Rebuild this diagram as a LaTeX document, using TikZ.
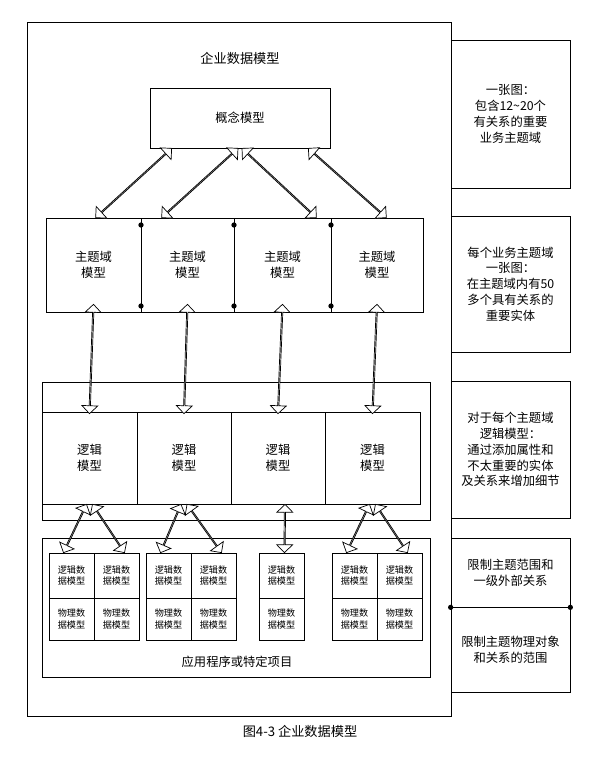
\documentclass[tikz,border=0pt]{standalone}
\usepackage{fontspec}
\setmainfont{Noto Sans CJK SC}
\usetikzlibrary{calc, shapes.arrows}

\tikzset{
    box/.style={draw, thin, fill=white, align=center, inner sep=1pt, font=\fontsize{7}{9}\selectfont},
    smallbox/.style={box, font=\fontsize{5.2}{6.6}\selectfont},
    dot/.style={circle, fill=black, inner sep=0pt, minimum size=3pt},
}
% box from pixel corners
\newcommand{\pbox}[7][box]{%
    \node[#1, minimum width={(#5-#3)*0.02cm}, minimum height={(#6-#4)*0.02cm}]
        (#2) at ({(#3+#5)/2},{(#4+#6)/2}) {#7};}
% hollow double arrow between two points
\newcommand{\fatarrow}[2]{%
    \path let \p1=($(#2)-(#1)$), \n1={atan2(\y1,\x1)}, \n2={veclen(\x1,\y1)} in
        node[draw, thin, fill=white, double arrow, rotate=\n1, inner sep=0pt,
             minimum height=\n2, minimum width=9pt, double arrow head extend=2.3pt]
        at ($(#1)!0.5!(#2)$) {};}

\begin{document}
\begin{tikzpicture}[x=0.02cm, y=-0.02cm]
    \useasboundingbox (0,0) rectangle (600,760);

    % outer frame
    \pbox{frame}{27}{22}{451}{716}{}
    \node[font=\fontsize{7.5}{9}\selectfont] (title) at (240,58) {企业数据模型};

    % concept model
    \pbox{concept}{150}{88}{330}{148}{概念模型}

    % subject area models
    \pbox{subA}{46}{218}{141}{312}{主题域\\模型}
    \pbox{subB}{141}{218}{234}{312}{主题域\\模型}
    \pbox{subC}{234}{218}{331}{312}{主题域\\模型}
    \pbox{subD}{331}{218}{423}{312}{主题域\\模型}
    \foreach \x in {141,234,331} {
        \node[dot] at (\x,225) {};
        \node[dot] at (\x,306) {};
    }

    % logical models
    \pbox{logic}{42}{382}{430}{520}{}
    \pbox{logA}{42}{412}{137}{504}{逻辑\\模型}
    \pbox{logB}{137}{412}{231}{504}{逻辑\\模型}
    \pbox{logC}{231}{412}{325}{504}{逻辑\\模型}
    \pbox{logD}{325}{412}{420}{504}{逻辑\\模型}

    % applications
    \pbox{app}{42}{538}{430}{677}{}
    \node[font=\fontsize{7}{9}\selectfont] (applabel) at (237,662) {应用程序或特定项目};
    \foreach \n/\xa/\xb in {A/49/94, B/146/191, D/332/377} {
        \pbox[smallbox]{ld\n1}{\xa}{553}{\xb}{598}{逻辑数\\据模型}
        \pbox[smallbox]{ld\n2}{\xb}{553}{\xb+45}{598}{逻辑数\\据模型}
        \pbox[smallbox]{pd\n1}{\xa}{598}{\xb}{640}{物理数\\据模型}
        \pbox[smallbox]{pd\n2}{\xb}{598}{\xb+45}{640}{物理数\\据模型}
    }
    \pbox[smallbox]{ldC1}{259}{553}{304}{598}{逻辑数\\据模型}
    \pbox[smallbox]{pdC1}{259}{598}{304}{640}{物理数\\据模型}

    % concept <-> subject arrows
    \fatarrow{$(concept.south west)+(22,0)$}{$(subA.north west)+(50,0)$}
    \fatarrow{$(concept.south)+(-2,0)$}{$(subB.north west)+(21,0)$}
    \fatarrow{$(concept.south)+(2,0)$}{$(subC.north east)+(-15,0)$}
    \fatarrow{$(concept.south east)+(-22,0)$}{$(subD.north east)+(-37,0)$}

    % subject <-> logic arrows
    \fatarrow{$(subA.south)+(0,-8)$}{$(logA.north)+(0,2)$}
    \fatarrow{$(subB.south)+(0,-8)$}{$(logB.north)+(0,2)$}
    \fatarrow{$(subC.south)+(0,-8)$}{$(logC.north)+(0,2)$}
    \fatarrow{$(subD.south)+(0,-8)$}{$(logD.north)+(0,2)$}

    % logic <-> data model arrows
    \fatarrow{$(logA.south)+(-3,0)$}{$(ldA1.north)+(-8,0)$}
    \fatarrow{$(logA.south)+(3,0)$}{$(ldA2.north)+(8,0)$}
    \fatarrow{$(logB.south)+(-3,0)$}{$(ldB1.north)+(-8,0)$}
    \fatarrow{$(logB.south)+(3,0)$}{$(ldB2.north)+(8,0)$}
    \fatarrow{$(logC.south)+(7,0)$}{$(ldC1.north)+(3,0)$}
    \fatarrow{$(logD.south)+(-3,0)$}{$(ldD1.north)+(-8,0)$}
    \fatarrow{$(logD.south)+(3,0)$}{$(ldD2.north)+(8,0)$}

    % notes on the right
    \pbox{noteA}{451}{40}{570}{188}{一张图：\\包含12\textasciitilde20个\\有关系的重要\\业务主题域}
    \pbox{noteB}{451}{216}{570}{352}{每个业务主题域\\一张图：\\在主题域内有50\\多个具有关系的\\重要实体}
    \pbox{noteC}{451}{381}{570}{518}{对于每个主题域\\逻辑模型：\\通过添加属性和\\不太重要的实体\\及关系来增加细节}
    \pbox{noteD}{451}{538}{570}{607}{限制主题范围和\\一级外部关系}
    \pbox{noteE}{451}{607}{570}{692}{限制主题物理对象\\和关系的范围}
    \node[dot] at (noteD.south west) {};
    \node[dot] at (noteD.south east) {};

    % caption
    \node[font=\fontsize{7.5}{9}\selectfont] (caption) at (300,731) {图4-3 企业数据模型};
\end{tikzpicture}
\end{document}
